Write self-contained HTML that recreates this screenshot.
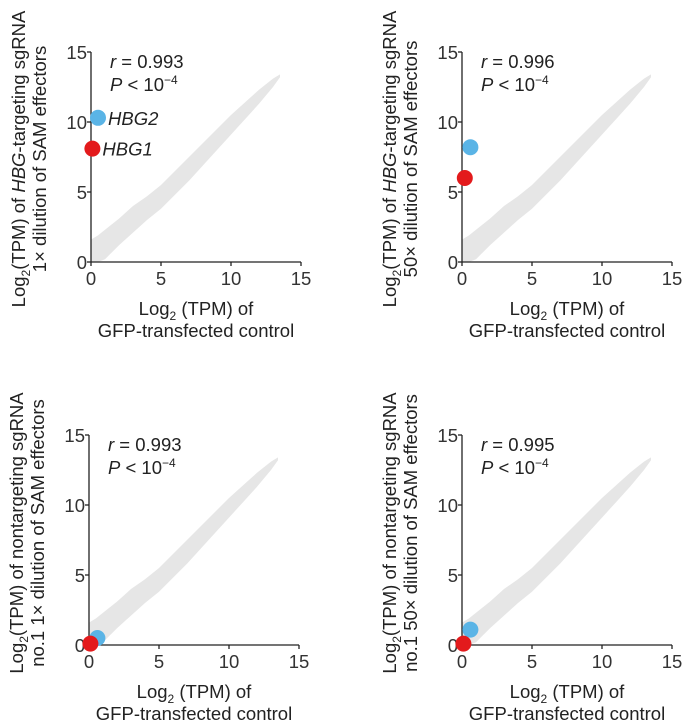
<!DOCTYPE html>
<html><head><meta charset="utf-8"><style>
html,body{margin:0;padding:0;background:#fff;}
svg{display:block;font-family:"Liberation Sans",Arial,sans-serif;}
</style></head><body>
<svg id="fig" width="685" height="727" viewBox="0 0 685 727"></svg>
<script>
// ---- data ----
const xTicks = [0, 5, 10, 15];
const yTicks = [0, 5, 10, 15];
// envelope of the grey gene cloud (x, lower y, upper y)
const cloudX     = [0, 0.5, 1, 2, 3, 4, 5, 6, 7, 8, 9, 10, 11, 12, 13, 13.5];
const cloudLower = [0, 0, 0.2, 1.2, 2.1, 3.0, 3.8, 4.8, 5.8, 6.9, 8.0, 9.1, 10.2, 11.3, 12.5, 13.2];
const cloudUpper = [1.6, 1.9, 2.3, 3.1, 4.0, 4.7, 5.5, 6.5, 7.5, 8.5, 9.5, 10.5, 11.4, 12.3, 13.1, 13.4];
const panelNames = ["hbg-1x", "hbg-50x", "nontargeting-1x", "nontargeting-50x"];
const rValues = ["0.993", "0.996", "0.993", "0.995"];
const hbg2X = [0.5, 0.6, 0.6, 0.6];
const hbg2Y = [10.3, 8.2, 0.5, 1.1];
const hbg1X = [0.1, 0.2, 0.1, 0.1];
const hbg1Y = [8.1, 6.0, 0.1, 0.1];
const yTitleA = ["HBG-targeting sgRNA", "HBG-targeting sgRNA", "nontargeting sgRNA", "nontargeting sgRNA"];
const yTitleB = ["1\u00d7 dilution of SAM effectors", "50\u00d7 dilution of SAM effectors", "no.1 1\u00d7 dilution of SAM effectors", "no.1 50\u00d7 dilution of SAM effectors"];

const NS = "http://www.w3.org/2000/svg";
const svg = document.getElementById("fig");
const origins = [[91, 262], [462, 262], [89, 645], [462, 645]];
const U = 14;
const FS = 18.5;
function mk(tag, attrs, parent) {
  const e = document.createElementNS(NS, tag);
  for (const k in attrs) e.setAttribute(k, attrs[k]);
  (parent || svg).appendChild(e);
  return e;
}
function tspan(parent, txt, attrs) {
  const t = document.createElementNS(NS, "tspan");
  for (const k in attrs || {}) t.setAttribute(k, attrs[k]);
  t.textContent = txt; parent.appendChild(t); return t;
}

panelNames.forEach((pn, i) => {
  const [ox, oy] = origins[i];
  const sx = v => ox + v * U;
  const sy = v => oy - v * U;
  const g = mk("g", {});
  
  

  let pts = [];
  cloudX.forEach((x, j) => pts.push(sx(x) + "," + sy(cloudUpper[j])));
  for (let j = cloudX.length - 1; j >= 0; j--) pts.push(sx(cloudX[j]) + "," + sy(cloudLower[j]));
  const cloud = mk("polygon", {points: pts.join(" "), fill: "#e6e6e6"}, g);
  
  

  const ya = mk("line", {x1: ox, y1: sy(15), x2: ox, y2: oy, stroke: "#222", "stroke-width": 1.3}, g);
  
  
  const xa = mk("line", {x1: ox, y1: oy, x2: sx(15), y2: oy, stroke: "#222", "stroke-width": 1.3}, g);
  
  
  xTicks.forEach(t => {
    mk("line", {x1: sx(t), y1: oy, x2: sx(t), y2: oy + 4, stroke: "#222", "stroke-width": 1.3}, g);
    const l = mk("text", {x: sx(t), y: oy + 23, "font-size": FS, "text-anchor": "middle", fill: "#333"}, g);
    l.textContent = t;
    
    
  });
  yTicks.forEach(t => {
    mk("line", {x1: ox - 4, y1: sy(t), x2: ox, y2: sy(t), stroke: "#222", "stroke-width": 1.3}, g);
    const l = mk("text", {x: ox - 4, y: sy(t) + 7, "font-size": FS, "text-anchor": "end", fill: "#333"}, g);
    l.textContent = t;
    
    
  });

  const p2 = mk("circle", {cx: sx(hbg2X[i]), cy: sy(hbg2Y[i]), r: 8, fill: "#5ab4e6"}, g);
  
  
  const p1 = mk("circle", {cx: sx(hbg1X[i]), cy: sy(hbg1Y[i]), r: 8, fill: "#e31a1c"}, g);
  
  
  if (i === 0) {
    const a = mk("text", {x: sx(hbg2X[i]) + 10, y: sy(hbg2Y[i]) + 7, "font-size": FS, "font-style": "italic", fill: "#222"}, g);
    a.textContent = "HBG2";
    
    
    const b = mk("text", {x: sx(hbg1X[i]) + 10, y: sy(hbg1Y[i]) + 7, "font-size": FS, "font-style": "italic", fill: "#222"}, g);
    b.textContent = "HBG1";
    
    
  }

  const r = mk("text", {x: ox + 19, y: sy(15) + 16, "font-size": FS, fill: "#222"}, g);
  tspan(r, "r", {"font-style": "italic"}); tspan(r, " = " + rValues[i]);
  
  
  const p = mk("text", {x: ox + 19, y: sy(15) + 39, "font-size": FS, fill: "#222"}, g);
  tspan(p, "P", {"font-style": "italic"}); tspan(p, " < 10"); tspan(p, "\u22124", {"font-size": 12, dy: -7});
  
  

  const cx = ox + 105;
  const xt1 = mk("text", {x: cx, y: oy + 53, "font-size": FS, "text-anchor": "middle", fill: "#222"}, g);
  tspan(xt1, "Log"); tspan(xt1, "2", {"font-size": 12, dy: 5}); tspan(xt1, " (TPM) of", {dy: -5});
  
  
  const xt2 = mk("text", {x: cx, y: oy + 75, "font-size": FS, "text-anchor": "middle", fill: "#222"}, g);
  xt2.textContent = "GFP-transfected control";
  
  

  const cy = i < 2 ? oy - 103 : oy - 112;
  const bx = ox - 91;
  const yt1 = mk("text", {x: 0, y: 0, "font-size": FS, "text-anchor": "middle", fill: "#222", transform: `translate(${bx + 25},${cy}) rotate(-90)`}, g);
  tspan(yt1, "Log"); tspan(yt1, "2", {"font-size": 12, dy: 5}); tspan(yt1, "(TPM) of ", {dy: -5});
  if (i < 2) { tspan(yt1, "HBG", {"font-style": "italic"}); tspan(yt1, "-targeting sgRNA"); }
  else tspan(yt1, yTitleA[i]);
  
  
  const yt2 = mk("text", {x: 0, y: 0, "font-size": FS, "text-anchor": "middle", fill: "#222", transform: `translate(${bx + 46},${cy}) rotate(-90)`}, g);
  yt2.textContent = yTitleB[i];
  
  
});
</script>
</body></html>
